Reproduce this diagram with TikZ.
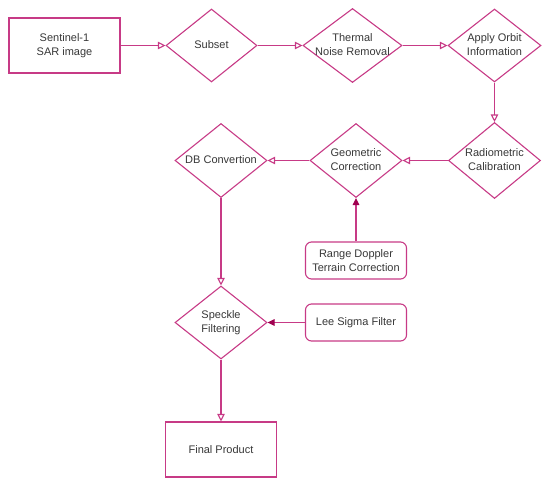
\documentclass[tikz,border=0pt]{standalone}
\usepackage{fontspec}
\setmainfont{Liberation Sans}
\usetikzlibrary{shapes.geometric,arrows.meta}

\definecolor{flowpink}{RGB}{199,58,134}
\definecolor{feedred}{RGB}{160,0,80}
\definecolor{labelgray}{RGB}{55,55,55}

% text of a decision, kept from widening the diamond
\newcommand{\dlabel}[1]{\makebox[0pt]{\begin{tabular}{@{}c@{}}#1\end{tabular}}}

\tikzset{
  procbox/.style={draw=flowpink, line width=1.1pt, minimum width=111pt, minimum height=55pt, inner sep=0pt, align=center, text=labelgray},
  decision/.style={diamond, draw=flowpink, line width=1.1pt, minimum width=92pt, minimum height=74pt, inner sep=0pt, text=labelgray},
  srcbox/.style={draw=flowpink, line width=1.1pt, rounded corners=6pt, minimum width=101pt, minimum height=37pt, inner sep=0pt, align=center, text=labelgray},
  flow/.style={draw=flowpink, line width=1.1pt, -{Triangle[open,length=7.5pt,width=7.5pt]}},
  feed/.style={draw=flowpink, line width=1.1pt, -{Triangle[length=7pt,width=6.5pt,color=feedred,fill=feedred]}},
}

\begin{document}
\begin{tikzpicture}[x=1pt,y=1pt,yscale=-1,xscale=1,font=\fontsize{11}{14}\selectfont]
\useasboundingbox (0,0) rectangle (550,485);

%Top row
\node (sentinel) [procbox] at (64.5,45.5) {Sentinel-1\\SAR image};
\node (subset) [decision, minimum width=91pt, minimum height=73pt] at (211.5,45.5) {\dlabel{Subset}};
\node (thermal) [decision, minimum width=99pt] at (352.5,45.5) {\dlabel{Thermal\\Noise Removal}};
\node (orbit) [decision, minimum width=93pt, minimum height=73pt] at (494.5,45.5) {\dlabel{Apply Orbit\\Information}};

%Second row
\node (radio) [decision, minimum height=76pt] at (494.5,160.5) {\dlabel{Radiometric\\Calibration}};
\node (geometric) [decision] at (356,160.5) {\dlabel{Geometric\\Correction}};
\node (dbconv) [decision] at (221,160.5) {\dlabel{DB Convertion}};

%Side inputs
\node (range) [srcbox] at (356,260.5) {Range Doppler\\Terrain Correction};
\node (lee) [srcbox] at (356,322.5) {Lee Sigma Filter};

%Bottom
\node (speckle) [decision, minimum height=73pt] at (221,322.5) {\dlabel{Speckle\\Filtering}};
\node (final) [procbox] at (221,449.5) {Final Product};

%Connectors
\draw [flow] (sentinel) -- (subset);
\draw [flow] (subset) -- (thermal);
\draw [flow] (thermal) -- (orbit);
\draw [flow] (orbit) -- (radio);
\draw [flow] (radio) -- (geometric);
\draw [flow] (geometric) -- (dbconv);
\draw [flow] (dbconv) -- (speckle);
\draw [flow] (speckle) -- (final);
\draw [feed] (range) -- (geometric);
\draw [feed] (lee) -- (speckle);

\end{tikzpicture}
\end{document}
